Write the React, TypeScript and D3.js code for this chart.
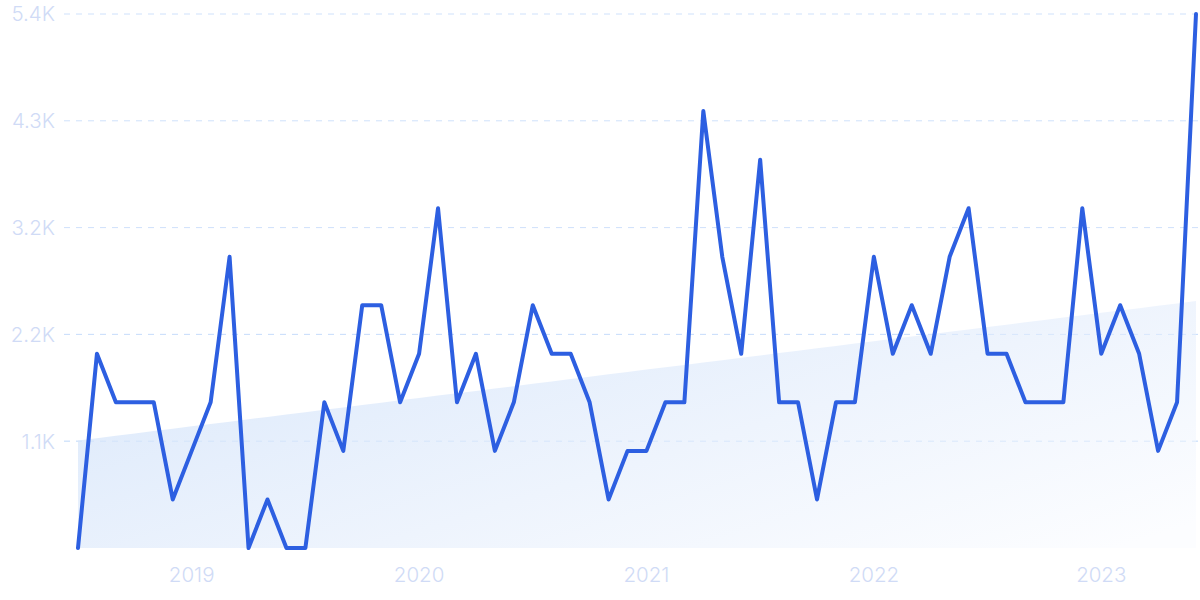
import React from "react";
import * as d3 from "d3";

const months: string[] = [];
for (let y = 2018; y <= 2023; y++) {
  for (let m = 1; m <= 12; m++) {
    if ((y === 2018 && m < 7) || (y === 2023 && m > 6)) continue;
    months.push(`${y}-${String(m).padStart(2, "0")}`);
  }
}

const values: number[] = [
  0, 1964, 1473, 1473, 1473, 491, 982, 1473, 2945, 0,
  491, 0, 0, 1473, 982, 2455, 2455, 1473, 1964, 3436,
  1473, 1964, 982, 1473, 2455, 1964, 1964, 1473, 491, 982,
  982, 1473, 1473, 4418, 2945, 1964, 3927, 1473, 1473, 491,
  1473, 1473, 2945, 1964, 2455, 1964, 2945, 3436, 1964, 1964,
  1473, 1473, 1473, 3436, 1964, 2455, 1964, 982, 1473, 5400,
];

const yTickValues = [1080, 2160, 3240, 4320, 5400];
const yTickLabels = ["1.1K", "2.2K", "3.2K", "4.3K", "5.4K"];
const xTickMonths = ["2019-01", "2020-01", "2021-01", "2022-01", "2023-01"];
const xTickLabels = ["2019", "2020", "2021", "2022", "2023"];

export default function App() {
  const W = 1200;
  const H = 600;
  const x = d3.scalePoint<string>().domain(months).range([78, 1196]);
  const y = d3.scaleLinear().domain([0, 5400]).range([548, 14]);

  // linear trend (least squares)
  const n = values.length;
  const idx = d3.range(n);
  const mx = d3.mean(idx) as number;
  const my = d3.mean(values) as number;
  const sxy = d3.sum(idx, (i) => (i - mx) * (values[i] - my));
  const sxx = d3.sum(idx, (i) => (i - mx) * (i - mx));
  const slope = sxy / sxx;
  const intercept = my - slope * mx;
  const trend = idx.map((i) => intercept + slope * i);

  const area = d3
    .area<number>()
    .x((i) => x(months[i]) as number)
    .y0(y(0))
    .y1((i) => y(trend[i]));
  const line = d3
    .line<number>()
    .x((i) => x(months[i]) as number)
    .y((i) => y(values[i]));

  const font = "Inter, 'Noto Sans', sans-serif";

  return (
    <div style={{ position: "fixed", left: 0, top: 0, width: W, height: H, background: "#fff" }}>
      <svg width={W} height={H} style={{ display: "block" }}>
        <defs>
          <linearGradient id="trendFill" x1="0" y1="0.2" x2="1" y2="0.9">
            <stop offset="0%" stopColor="#dce9fb" />
            <stop offset="55%" stopColor="#eef4fd" />
            <stop offset="100%" stopColor="#fcfdff" />
          </linearGradient>
        </defs>
        {yTickValues.map((v, i) => (
          <g key={v}>
            <line
              x1={64}
              x2={W}
              y1={y(v)}
              y2={y(v)}
              stroke="#cfe1fb"
              strokeWidth={1}
              strokeDasharray="6 6"
            />
            <text
              x={55}
              y={y(v)}
              dy="0.36em"
              textAnchor="end"
              fontFamily={font}
              fontSize={20.5}
              fontWeight={300}
              fill="#d0dbf6"
            >
              {yTickLabels[i]}
            </text>
          </g>
        ))}
        <path d={area(idx) as string} fill="url(#trendFill)" />
        {yTickValues.slice(0, 2).map((v) => (
          <line
            key={"g" + v}
            x1={64}
            x2={W}
            y1={y(v)}
            y2={y(v)}
            stroke="#c6dcfa"
            strokeOpacity={0.6}
            strokeWidth={1}
            strokeDasharray="6 6"
          />
        ))}
        <path
          d={line(idx) as string}
          fill="none"
          stroke="#2d5fe1"
          strokeWidth={4}
          strokeLinejoin="round"
          strokeLinecap="round"
        />
        {xTickMonths.map((m, i) => (
          <text
            key={m}
            x={x(m) as number}
            y={582}
            textAnchor="middle"
            fontFamily={font}
            fontSize={20.5}
            fontWeight={300}
            fill="#d0dbf6"
          >
            {xTickLabels[i]}
          </text>
        ))}
      </svg>
    </div>
  );
}
